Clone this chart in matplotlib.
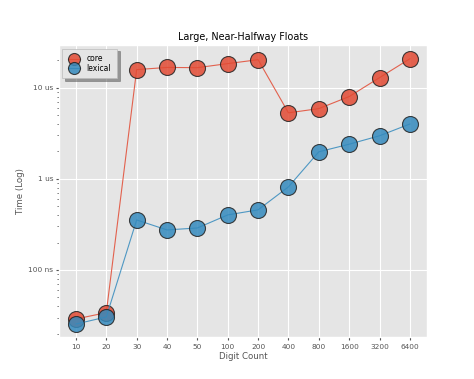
import numpy as np
import matplotlib
matplotlib.use("Agg")
import matplotlib.pyplot as plt
from matplotlib.ticker import FuncFormatter

plt.style.use("ggplot")

digits = ["10", "20", "30", "40", "50", "100", "200", "400", "800", "1600", "3200", "6400"]

# times in nanoseconds
core = [29, 34, 15800, 16700, 16600, 18400, 20300, 5300, 5900, 8000, 12900, 20800]
lexical = [25.5, 30.5, 354, 275, 289, 402, 457, 817, 1980, 2400, 2970, 4000]


def fmt_time(v, pos):
    if v >= 1e3:
        return f"{v / 1e3:g} us"
    return f"{v:g} ns"


fig, ax = plt.subplots(figsize=(4.74, 3.79), dpi=100)

x = np.arange(len(digits))

ax.plot(x, core, marker="o", markersize=11.5, linewidth=0.8, alpha=0.85,
        markeredgecolor="#222222", markeredgewidth=0.8, label="core")
ax.plot(x, lexical, marker="o", markersize=11.5, linewidth=0.8, alpha=0.85,
        markeredgecolor="#222222", markeredgewidth=0.8, label="lexical")

ax.set_yscale("log")
ax.yaxis.set_major_formatter(FuncFormatter(fmt_time))

ax.set_xticks(x)
ax.set_xticklabels(digits)

ax.tick_params(axis="both", labelsize=5.3, length=2.5, pad=2)
ax.tick_params(axis="y", which="minor", length=1.5)

ax.set_title("Large, Near-Halfway Floats", fontsize=6.9, pad=4)
ax.set_xlabel("Digit Count", fontsize=6.2, labelpad=2)
ax.set_ylabel("Time (Log)", fontsize=6.2, labelpad=2)

ax.legend(loc="upper left", fontsize=5.5, shadow=True, fancybox=False,
          labelspacing=0.05, handlelength=1.6, borderpad=0.75, markerscale=0.75,
          borderaxespad=0.4, facecolor="#E5E5E5", edgecolor="#BBBBBB")

plt.savefig("out.png", dpi=100)
